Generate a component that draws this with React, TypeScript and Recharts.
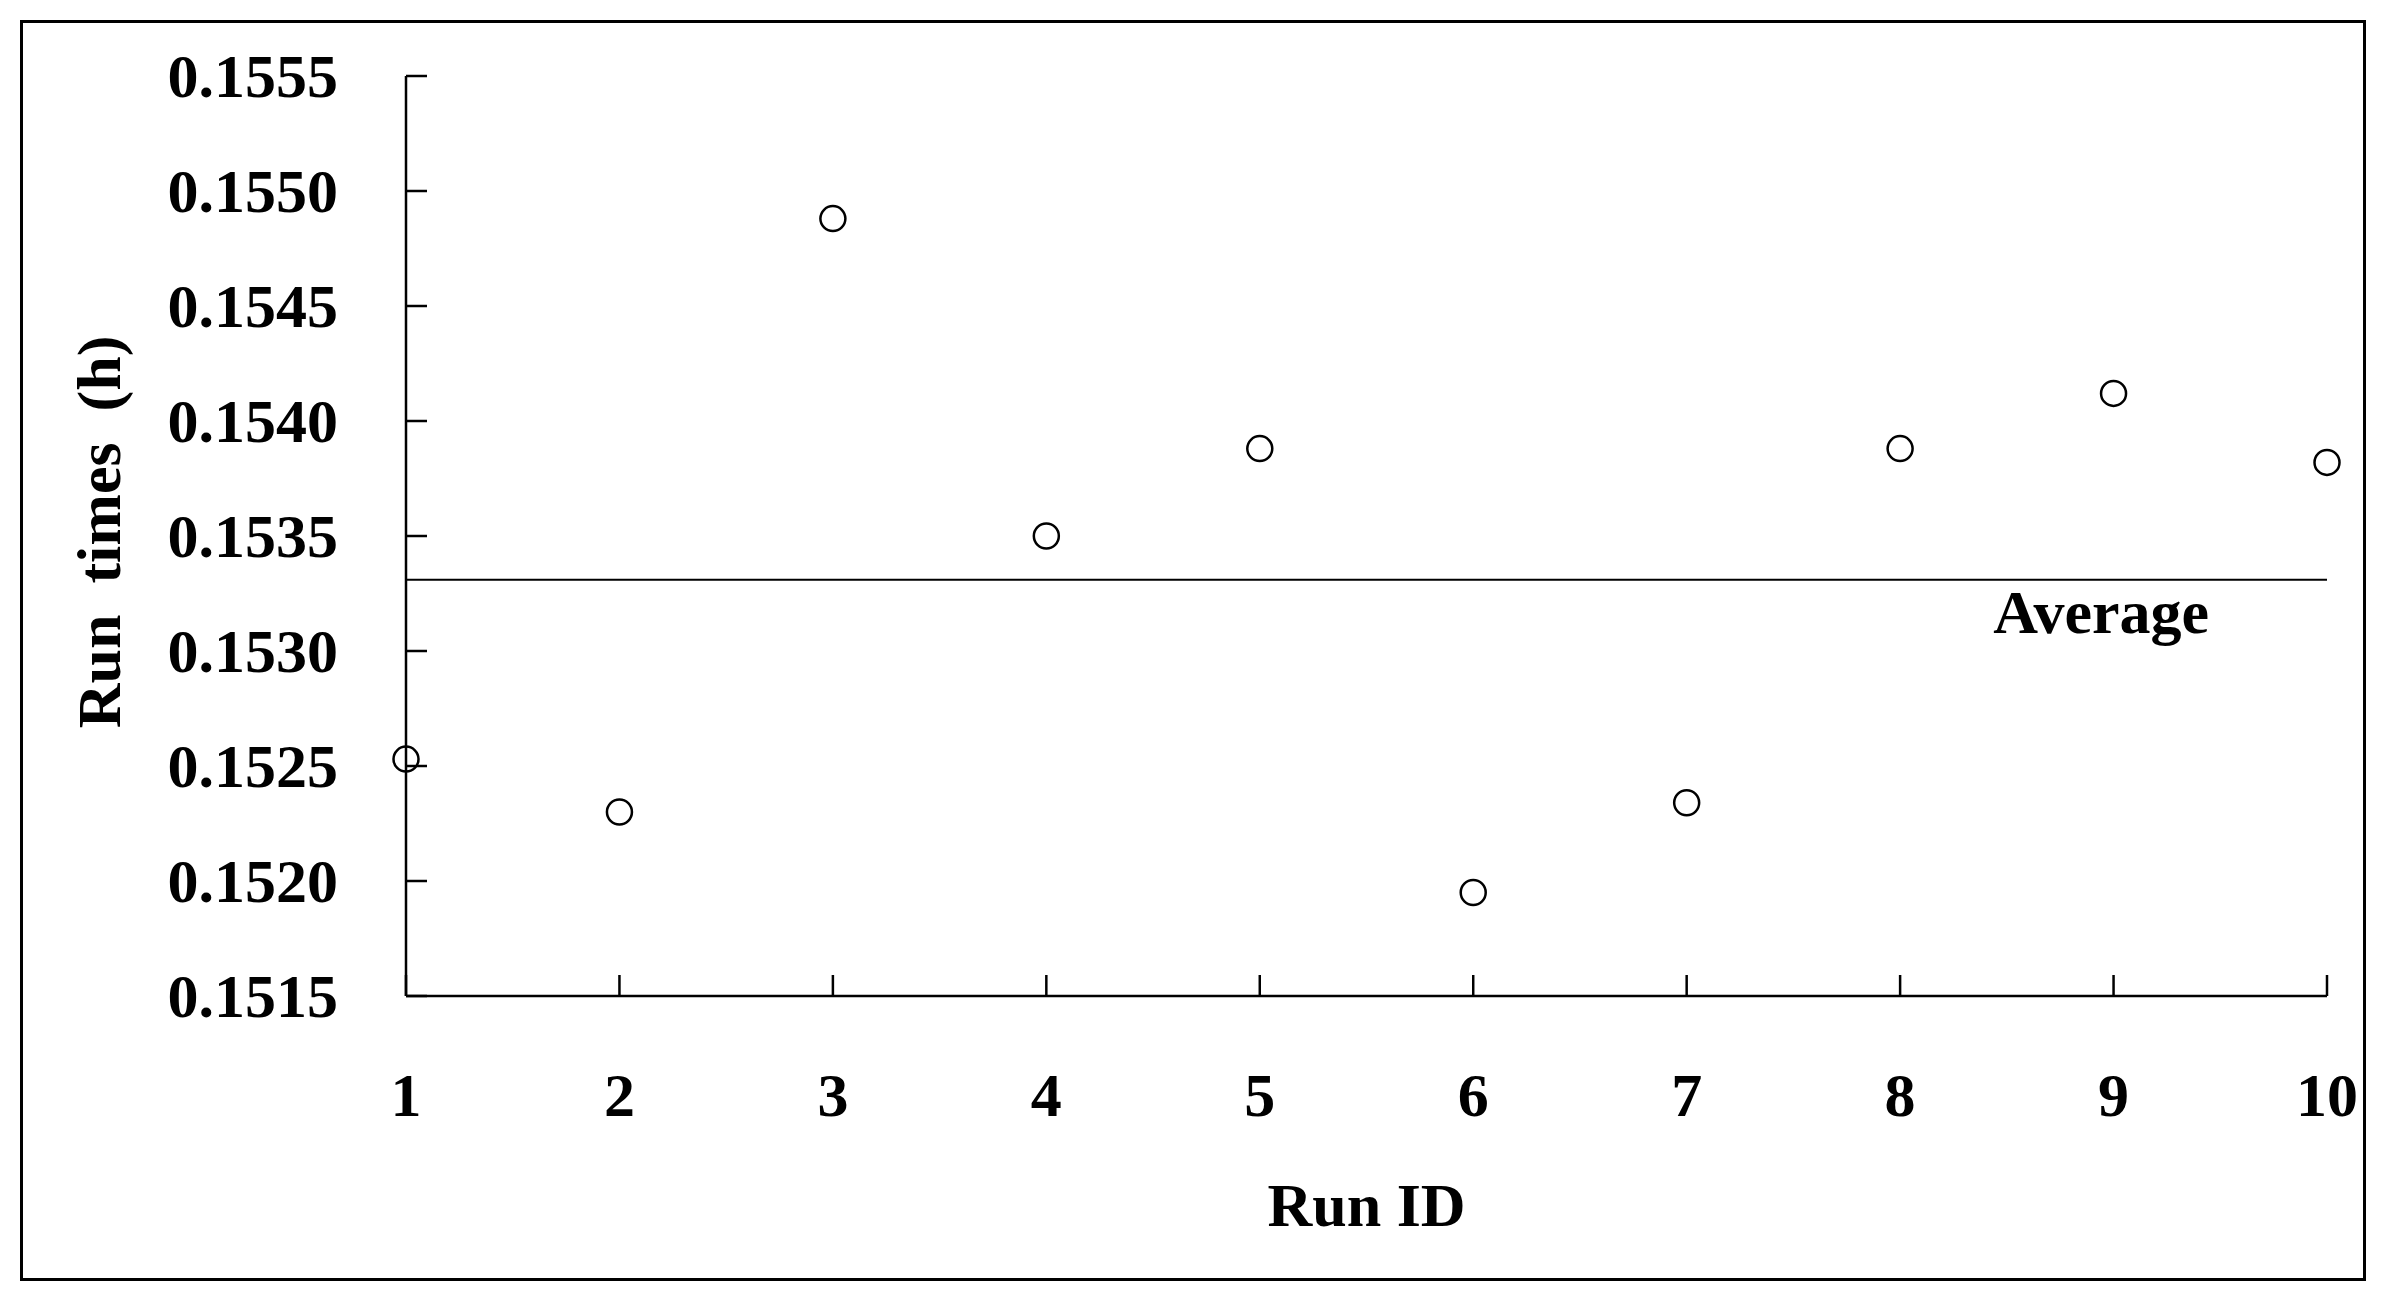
import { ScatterChart, Scatter, XAxis, YAxis, ReferenceLine, Label } from 'recharts';

// values
const runIds = [1, 2, 3, 4, 5, 6, 7, 8, 9, 10];
const runTimes = [0.15253, 0.1523, 0.15488, 0.1535, 0.15388, 0.15195, 0.15234, 0.15388, 0.15412, 0.15382];
const averageRunTime = 0.15331;
const yTicks = [0.1515, 0.152, 0.1525, 0.153, 0.1535, 0.154, 0.1545, 0.155, 0.1555];
const xTicks = runIds;

const chartData = runIds.map((run, i) => ({ run, time: runTimes[i] }));

const FONT = "'Liberation Serif', 'Times New Roman', Times, serif";
const FONT_SIZE = 62;
const TICK_LEN = 21;
const STROKE = 2.5;

const textStyle = {
  fontFamily: FONT,
  fontWeight: 'bold' as const,
  fontSize: FONT_SIZE,
  fill: '#000',
};

function XTick({ x, y, payload }: any) {
  return (
    <g>
      <line x1={x} y1={y} x2={x} y2={y - TICK_LEN} stroke="#000" strokeWidth={STROKE} />
      <text x={x} y={y + 120} textAnchor="middle" {...textStyle}>
        {payload.value}
      </text>
    </g>
  );
}

function YTick({ x, y, payload }: any) {
  return (
    <g>
      <line x1={x} y1={y} x2={x + TICK_LEN} y2={y} stroke="#000" strokeWidth={STROKE} />
      <text x={x - 68} y={y} dy="0.34em" textAnchor="end" {...textStyle}>
        {Number(payload.value).toFixed(4)}
      </text>
    </g>
  );
}

function OpenCircle({ cx, cy }: any) {
  return <circle cx={cx} cy={cy} r={12.5} fill="none" stroke="#000" strokeWidth={STROKE} />;
}

export default function App() {
  return (
    <div style={{ position: 'absolute', left: 0, top: 0, width: 2385, height: 1299, background: '#fff' }}>
      <div
        style={{
          position: 'absolute',
          left: 20,
          top: 20,
          width: 2346,
          height: 1261,
          border: '3px solid #000',
          boxSizing: 'border-box',
        }}
      />
      <div style={{ position: 'absolute', left: 0, top: 0 }}>
        <ScatterChart width={2385} height={1299} margin={{ top: 76, right: 58, left: 0, bottom: 0 }}>
          <XAxis
            type="number"
            dataKey="run"
            domain={[1, 10]}
            ticks={xTicks}
            interval={0}
            height={303}
            tickSize={0}
            tickMargin={0}
            tickLine={false}
            axisLine={{ stroke: '#000', strokeWidth: STROKE }}
            tick={<XTick />}
          >
            <Label
              content={({ viewBox }: any) => (
                <text x={viewBox.x + viewBox.width / 2} y={viewBox.y + 230} textAnchor="middle" {...textStyle}>
                  Run ID
                </text>
              )}
            />
          </XAxis>
          <YAxis
            type="number"
            dataKey="time"
            domain={[0.1515, 0.1555]}
            ticks={yTicks}
            interval={0}
            width={406}
            tickSize={0}
            tickMargin={0}
            tickLine={false}
            axisLine={{ stroke: '#000', strokeWidth: STROKE }}
            tick={<YTick />}
          >
            <Label
              content={({ viewBox }: any) => {
                const lx = viewBox.x + 120;
                const ly = viewBox.y + viewBox.height / 2 - 4;
                return (
                  <text
                    x={lx}
                    y={ly}
                    textAnchor="middle"
                    transform={`rotate(-90, ${lx}, ${ly})`}
                    style={{ whiteSpace: 'pre' }}
                    {...textStyle}
                  >
                    {'Run  times  (h)'}
                  </text>
                );
              }}
            />
          </YAxis>
          <ReferenceLine
            y={averageRunTime}
            stroke="#000"
            strokeWidth={2}
            label={{
              content: ({ viewBox }: any) => (
                <text x={viewBox.x + viewBox.width - 118} y={viewBox.y + 53} textAnchor="end" {...textStyle}>
                  Average
                </text>
              ),
            }}
          />
          <Scatter data={chartData} shape={<OpenCircle />} isAnimationActive={false} />
        </ScatterChart>
      </div>
    </div>
  );
}
